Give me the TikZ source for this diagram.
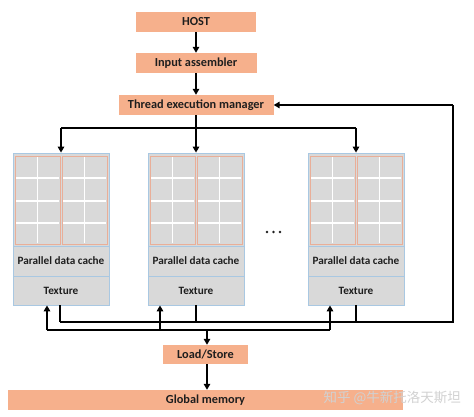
\documentclass[tikz,border=0pt]{standalone}
\usepackage{fontspec}
\setmainfont{Carlito}
\newfontfamily\cjk{Noto Sans CJK SC}
\usetikzlibrary{arrows.meta}
\definecolor{boxor}{HTML}{F6B08C}
\definecolor{smgray}{HTML}{D9D9D9}
\definecolor{smblue}{HTML}{A9C8E2}
\definecolor{blkor}{HTML}{E9AE98}
\definecolor{txt}{HTML}{1E1E1E}
\tikzset{
  obox/.style={draw=none,fill=boxor,inner sep=0pt,font=\bfseries\fontsize{12.3}{14}\selectfont,text=txt},
  smpart/.style={draw=smblue,line width=0.8pt,fill=smgray,inner sep=0pt,minimum width=96pt,font=\bfseries\fontsize{11.2}{13}\selectfont,text=txt},
  conn/.style={line width=1.7pt,black},
  arr/.style={conn,-{Triangle[length=6pt,width=6.5pt]}},
  dotmark/.style={circle,fill=txt,inner sep=0pt,minimum size=2.6pt}
}
\begin{document}
\begin{tikzpicture}[x=1pt,y=-1pt]
\useasboundingbox (0,0) rectangle (474,417);
% top chain
\node[obox,minimum width=120pt,minimum height=20pt] (host) at (196,22) {HOST};
\node[obox,minimum width=121pt,minimum height=20pt] (inp) at (196,63) {Input assembler};
\node[obox,minimum width=155pt,minimum height=20pt] (tem) at (196,105) {Thread execution manager};
\draw[arr] (host) -- (inp);
\draw[arr] (inp) -- (tem);
% SMs
\foreach \n/\cx in {1/61,2/196,3/356}{
  \node[smpart,minimum height=93pt] (g\n) at (\cx,199.5) {};
  \node[smpart,minimum height=30pt] (c\n) at (\cx,261) {Parallel data cache};
  \node[smpart,minimum height=29pt] (t\n) at (\cx,290.5) {Texture};
  \foreach \bx in {-46,1}{
    \draw[blkor,line width=0.9pt,fill=smgray] (\cx+\bx,156) rectangle (\cx+\bx+45,244);
    \draw[white,line width=1.3pt] (\cx+\bx+22.5,157) -- (\cx+\bx+22.5,243);
    \foreach \yy in {178,201,223}{
      \draw[white,line width=1.3pt] (\cx+\bx+1,\yy) -- (\cx+\bx+44,\yy);
    }
  }
}
% distribution from thread manager
\coordinate (d0) at (196,128);
\coordinate (d1) at (61,128);
\coordinate (d3) at (356,128);
\draw[conn] (tem.south) -- (d0);
\draw[conn] (d1) -- (d3);
\draw[arr] (d1) -- (g1.north);
\draw[arr] (d0) -- (g2.north);
\draw[arr] (d3) -- (g3.north);
% outputs to feedback bus
\coordinate (o1) at (60,322);
\coordinate (o2) at (196,322);
\coordinate (o3) at (356,322);
\coordinate (oR) at (453,322);
\coordinate (oT) at (453,105);
\draw[conn] (t1.south -| o1) -- (o1);
\draw[conn] (t2.south -| o2) -- (o2);
\draw[conn] (t3.south -| o3) -- (o3);
\draw[conn] (o1) -- (oR) -- (oT);
\draw[arr] (oT) -- (tem.east);
% inputs from load/store bus
\coordinate (i1) at (47,330);
\coordinate (i2) at (160,330);
\coordinate (i3) at (330,330);
\coordinate (iL) at (207,330);
\draw[conn] (i1) -- (i3);
\draw[arr] (i1) -- (t1.south -| i1);
\draw[arr] (i2) -- (t2.south -| i2);
\draw[arr] (i3) -- (t3.south -| i3);
% load/store and global memory
\node[obox,minimum width=85pt,minimum height=19pt] (ls) at (205.5,354.5) {Load/Store};
\node[obox,minimum width=395pt,minimum height=20pt] (gm) at (205.5,400) {Global memory};
\draw[arr] (iL) -- (ls.north -| iL);
\draw[arr] (ls.south -| iL) -- (gm.north -| iL);
% dots
\node[dotmark] (dA) at (267,232) {};
\node[dotmark] (dB) at (273.5,232) {};
\node[dotmark] (dC) at (280,232) {};
% watermark
\node[font=\cjk\fontsize{13.5}{14}\selectfont,text=white!82!black,anchor=west] (wm) at (320,398) {知乎 @牛新托洛天斯坦};
\end{tikzpicture}
\end{document}
